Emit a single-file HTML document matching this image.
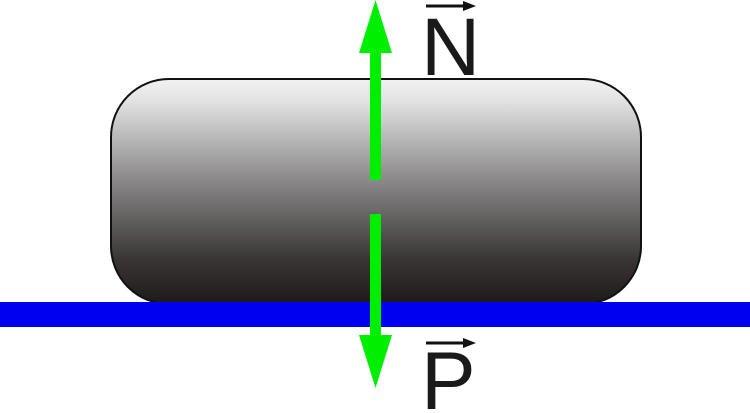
<!DOCTYPE html>
<html><head><meta charset="utf-8"><style>
html,body{margin:0;padding:0;background:#fff;width:750px;height:413px;overflow:hidden}
</style></head><body>
<svg width="750" height="413" viewBox="0 0 750 413" xmlns="http://www.w3.org/2000/svg">
<defs>
<linearGradient id="g" x1="0" y1="0" x2="0" y2="1">
<stop offset="0" stop-color="#f2f2f2"/>
<stop offset="0.1" stop-color="#e2e2e2"/>
<stop offset="0.45" stop-color="#8a8888"/>
<stop offset="0.8" stop-color="#3a3636"/>
<stop offset="1" stop-color="#1e1a1a"/>
</linearGradient>
</defs>
<rect x="111" y="79" width="530" height="225" rx="58" ry="58" fill="url(#g)" stroke="#111" stroke-width="2"/>
<rect x="0" y="302" width="750" height="25" fill="#0000f0"/>
<!-- up arrow -->
<rect x="370" y="50" width="11" height="130" fill="#00ee00"/>
<polygon points="375.5,0 359,53 392,53" fill="#00ee00"/>
<!-- down arrow -->
<rect x="370" y="214" width="11" height="124" fill="#00ee00"/>
<polygon points="375.5,388 359,335 392,335" fill="#00ee00"/>
<!-- N -->
<text x="421" y="75" font-family="Liberation Sans, sans-serif" font-size="82" fill="#1a1a1a">N</text>
<line x1="426" y1="6" x2="466" y2="6" stroke="#111" stroke-width="3"/>
<polygon points="476,6 463,1 463,11" fill="#111"/>
<!-- P -->
<text x="421" y="409" font-family="Liberation Sans, sans-serif" font-size="82" fill="#1a1a1a">P</text>
<line x1="426" y1="343" x2="466" y2="343" stroke="#111" stroke-width="3"/>
<polygon points="476,343 463,338 463,348" fill="#111"/>
</svg>
</body></html>
